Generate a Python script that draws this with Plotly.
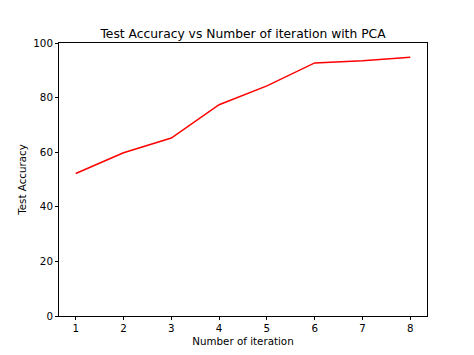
import plotly.graph_objects as go

iterations = [1, 2, 3, 4, 5, 6, 7, 8]
accuracy = [52.2, 59.8, 65.2, 77.4, 84.3, 92.7, 93.5, 94.8]
x_ticks = [1, 2, 3, 4, 5, 6, 7, 8]
y_ticks = [0, 20, 40, 60, 80, 100]

fig = go.Figure()
fig.add_trace(go.Scatter(x=iterations, y=accuracy, mode="lines",
                         line=dict(color="red", width=1.5), showlegend=False))

font = "DejaVu Sans"
axis_common = dict(showgrid=False, zeroline=False, showline=True, mirror=True,
                   automargin=False,
                   linecolor="black", linewidth=1, ticks="outside", ticklen=3,
                   tickcolor="black", tickwidth=1,
                   tickfont=dict(family=font, size=10.3, color="black"))

fig.update_layout(
    width=458, height=339,
    margin=dict(l=51, r=39, t=35, b=31),
    paper_bgcolor="white", plot_bgcolor="white",
    title=dict(text="Test Accuracy vs Number of iteration with PCA",
               font=dict(family=font, size=12.3, color="black"),
               x=0.5, xref="paper", xanchor="center",
               y=1, yref="paper", yanchor="bottom", pad=dict(b=5)),
    xaxis=dict(range=[0.65, 8.35], tickvals=x_ticks,
               title=dict(text="Number of iteration", standoff=5,
                          font=dict(family=font, size=10.3, color="black")),
               **axis_common),
    yaxis=dict(range=[0, 100], tickvals=y_ticks,
               title=dict(text="Test Accuracy", standoff=4,
                          font=dict(family=font, size=10.3, color="black")),
               **axis_common),
)

fig.write_html("out.html")
